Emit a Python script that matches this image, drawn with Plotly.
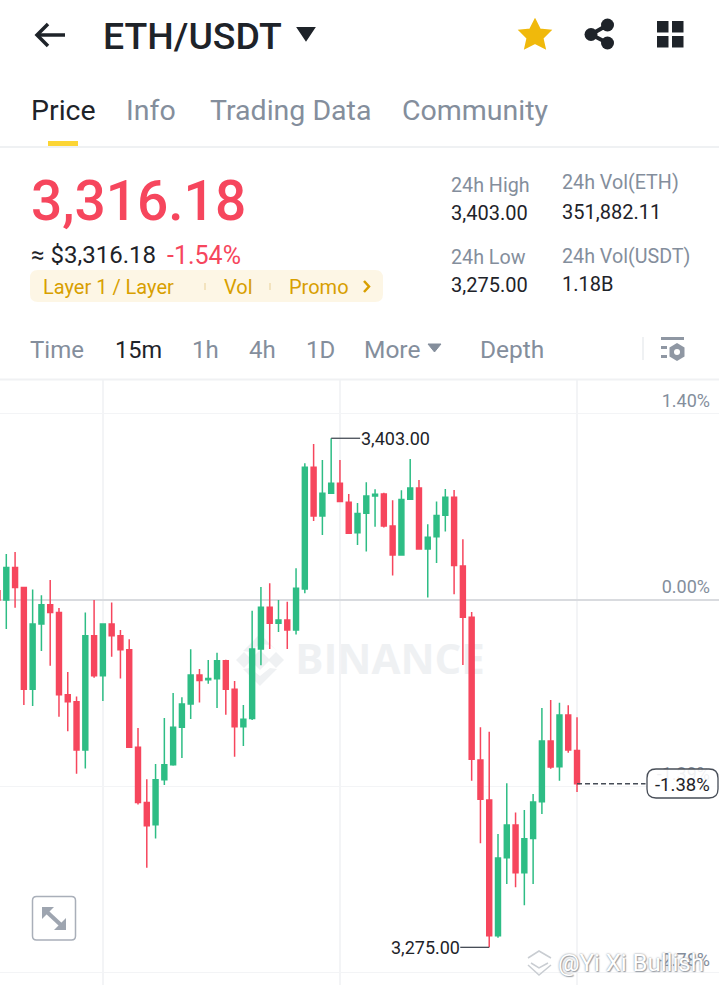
import plotly.graph_objects as go

W = 719
H = 985
FONT = "Roboto"
DARK = "#1E2329"
GRAY = "#848E9C"
RED = "#F6465D"
GREEN = "#2EBD85"
GOLD = "#D89F00"

# 15m candles, % change against the chart's reference price
bar_index = list(range(-1, 66))
open_pct = [0.07, 0.0, 0.243, 0.093, -0.67, -0.18, -0.035, -0.093, -0.71, -0.763, -1.125, -0.268, -0.568, -0.18,
            -0.268, -0.373, -1.105, -1.518, -1.685, -1.348, -1.235, -0.955, -0.78, -0.563, -0.598, -0.59, -0.455,
            -0.67, -0.95, -0.888, -0.368, -0.055, -0.175, -0.15, -0.225, 0.083, 0.995, 0.63, 0.8, 0.875, 0.733,
            0.505, 0.65, 0.78, 0.795, 0.555, 0.338, 0.755, 0.84, 0.383, 0.475, 0.635, 0.77, 0.255, -0.13, -1.2,
            -1.5, -2.518, -1.933, -1.688, -2.045, -1.788, -1.513, -1.058, -1.25, -0.863, -1.128]
high_pct = [0.1, 0.345, 0.36, 0.095, 0.078, 0.035, 0.15, -0.06, -0.54, -0.723, -0.093, 0.0, -0.175, -0.018,
            -0.225, -0.295, -0.96, -1.345, -1.23, -0.885, -0.698, -0.73, -0.37, -0.518, -0.45, -0.395, -0.448,
            -0.608, -0.788, -0.08, 0.098, 0.125, 0.0, -0.013, 0.238, 1.025, 1.17, 1.05, 1.213, 1.05, 0.795,
            0.728, 0.883, 0.83, 0.805, 0.748, 0.823, 1.058, 0.9, 0.568, 0.738, 0.833, 0.825, 0.455, -0.09, -0.955,
            -0.988, -1.755, -1.375, -1.593, -1.575, -1.455, -0.81, -0.75, -0.77, -0.79, -0.88]
low_pct = [-0.02, -0.218, -0.058, -0.788, -0.795, -0.383, -0.493, -0.875, -0.985, -1.303, -1.263, -0.583, -0.758,
           -0.425, -0.588, -1.105, -1.533, -2.008, -1.788, -1.388, -1.243, -1.185, -0.893, -0.768, -0.628, -0.81,
           -0.86, -1.175, -1.095, -0.9, -0.49, -0.368, -0.24, -0.368, -0.258, 0.05, 0.593, 0.488, 0.795, 0.735,
           0.495, 0.413, 0.363, 0.55, 0.543, 0.183, 0.335, 0.75, 0.378, 0.018, 0.278, 0.513, 0.043, -0.488, -1.355,
           -1.825, -2.605, -2.533, -2.13, -2.155, -2.29, -2.13, -1.605, -1.265, -1.355, -1.145, -1.44]
close_pct = [0.0, 0.243, 0.093, -0.67, -0.18, -0.035, -0.093, -0.71, -0.763, -1.125, -0.268, -0.568, -0.18,
             -0.268, -0.373, -1.105, -1.518, -1.693, -1.348, -1.235, -0.955, -0.78, -0.563, -0.603, -0.588, -0.455,
             -0.67, -0.95, -0.895, -0.368, -0.055, -0.175, -0.15, -0.225, 0.088, 0.995, 0.63, 0.8, 0.875, 0.738,
             0.5, 0.648, 0.78, 0.793, 0.555, 0.338, 0.753, 0.84, 0.383, 0.47, 0.633, 0.77, 0.258, -0.13, -1.195,
             -1.495, -2.518, -1.935, -1.688, -2.045, -1.79, -1.515, -1.058, -1.253, -0.863, -1.125, -1.378]

# the app's lower gridlines sit slightly below their rounded labels
axis_ticks = [1.40, 0.0, -1.397, -2.795]
axis_labels = ["1.40%", "0.00%", "-1.39%", "-2.78%"]
time_ticks = [11, 38, 65]
last_pct = -1.378


def px(x):
    return x / W


def py(y):
    return 1 - y / H


def path(cmds):
    # cmds: list of (letter, x, y, ...) in screen pixels
    out = ""
    for c in cmds:
        out += c[0]
        vals = c[1:]
        for n in range(0, len(vals), 2):
            out += f" {px(vals[n]):.5f},{py(vals[n + 1]):.5f} "
    return out


def rrect(x0, y0, x1, y1, r):
    return path([("M", x0 + r, y0), ("L", x1 - r, y0), ("Q", x1, y0, x1, y0 + r), ("L", x1, y1 - r),
                 ("Q", x1, y1, x1 - r, y1), ("L", x0 + r, y1), ("Q", x0, y1, x0, y1 - r), ("L", x0, y0 + r),
                 ("Q", x0, y0, x0 + r, y0)]) + "Z"


def poly(points):
    return path([("M",) + points[0]] + [("L",) + p for p in points[1:]]) + "Z"


def line_path(points):
    return path([("M",) + points[0]] + [("L",) + p for p in points[1:]])


shapes = []
annotations = []


def add_path(d, fill=None, line=None, width=0, layer="above"):
    shapes.append(dict(type="path", xref="paper", yref="paper", path=d, fillcolor=fill or "rgba(0,0,0,0)",
                       line=dict(color=line or "rgba(0,0,0,0)", width=width), layer=layer))


def add_circle(cx, cy, r, fill):
    shapes.append(dict(type="circle", xref="paper", yref="paper", x0=px(cx - r), x1=px(cx + r), y0=py(cy + r),
                       y1=py(cy - r), fillcolor=fill, line=dict(width=0)))


def add_text(x, y, s, size, color, weight=400, anchor="left", **font_extra):
    # annotations sit about 1.5px right of the requested edge
    if anchor == "left":
        x = x - 1.5
    annotations.append(dict(xref="paper", yref="paper", x=px(x), y=py(y), text=s, showarrow=False, xanchor=anchor,
                            yanchor="middle", borderpad=0,
                            font=dict(family=FONT, size=size, color=color, weight=weight, **font_extra)))


# header
add_path(line_path([(48, 24), (37, 35), (48, 46)]), line=DARK, width=3.5)
add_path(line_path([(37, 35), (65, 35)]), line=DARK, width=3.5)
add_text(103, 36, "ETH/USDT", 37.4, DARK, 500)
add_path(poly([(298, 28), (314, 28), (306, 40)]), fill=DARK, line=DARK, width=2)
add_path(poly([(535, 21), (539.5, 30), (549, 31), (542, 38), (544, 47), (535, 42.5), (526, 47), (528, 38), (521, 31),
               (530.5, 30)]), fill="#F0B90B", line="#F0B90B", width=3)
add_path(line_path([(607.5, 25), (591, 34.5), (607.5, 43)]), line=DARK, width=4)
add_circle(607.5, 25, 6.5, DARK)
add_circle(591, 34.5, 6.5, DARK)
add_circle(607.5, 43, 6.5, DARK)
for gx, gy in [(657, 21), (672, 21), (657, 36), (672, 36)]:
    add_path(poly([(gx, gy), (gx + 11.5, gy), (gx + 11.5, gy + 11.5), (gx, gy + 11.5)]), fill=DARK)

# tabs
add_text(31, 110, "Price", 28.5, DARK)
add_text(126, 110, "Info", 28.5, GRAY)
add_text(210, 110, "Trading Data", 28.5, GRAY)
add_text(403, 110, "Community", 28.5, GRAY)
add_path(poly([(48, 141), (78, 141), (78, 146), (48, 146)]), fill="#FCD535")
add_path(line_path([(0, 147), (W, 147)]), line="#EAECEF", width=1.5)

# price block
add_text(31, 201, "3,316.18", 55, RED, 500)
add_text(31, 255, "≈ $3,316.18", 24, DARK)
add_text(167, 255, "-1.54%", 25, RED)
add_path(rrect(30, 270, 383, 302, 8), fill="#FDF6E5")
add_text(43, 287, "Layer 1 / Layer", 20, GOLD)
add_text(224, 287, "Vol", 20, GOLD)
add_text(289, 287, "Promo", 20, GOLD)
add_path(line_path([(205, 283), (205, 290)]), line="#EFDDB0", width=1.5)
add_path(line_path([(270, 283), (270, 290)]), line="#EFDDB0", width=1.5)
add_path(line_path([(364, 281), (369, 286.5), (364, 292)]), line=GOLD, width=2.5)

add_text(451, 185, "24h High", 19.7, GRAY)
add_text(451, 213, "3,403.00", 20, DARK)
add_text(562, 183, "24h Vol(ETH)", 19.7, GRAY)
add_text(562, 212, "351,882.11", 20, DARK)
add_text(451, 257, "24h Low", 19.7, GRAY)
add_text(451, 285, "3,275.00", 20, DARK)
add_text(562, 256, "24h Vol(USDT)", 19.7, GRAY)
add_text(562, 284, "1.18B", 20, DARK)

# interval row
add_text(30, 350, "Time", 24, GRAY)
add_text(115, 350, "15m", 23.5, DARK)
add_text(192, 350, "1h", 24, GRAY)
add_text(249, 350, "4h", 24, GRAY)
add_text(306, 350, "1D", 24, GRAY)
add_text(364, 350, "More", 24.5, GRAY)
add_text(480, 350, "Depth", 24.5, GRAY)
add_path(poly([(428, 344), (441, 344), (434.5, 352)]), fill=GRAY, line=GRAY, width=1)
add_path(line_path([(643, 337), (643, 360)]), line="#EAECEF", width=1.5)
add_path(poly([(661, 337), (684, 337), (684, 340), (661, 340)]), fill="#8F97A3")
add_path(poly([(661, 346), (667, 346), (667, 349), (661, 349)]), fill="#8F97A3")
add_path(poly([(661, 355), (667, 355), (667, 358), (661, 358)]), fill="#8F97A3")
add_path(poly([(677, 343), (684.5, 347.5), (684.5, 356.5), (677, 361), (669.5, 356.5), (669.5, 347.5)]), fill="#8F97A3")
add_circle(677, 352, 3, "white")
add_path(line_path([(0, 379.5), (W, 379.5)]), line="#F0F1F3", width=2)

# watermark behind the candles
add_path(poly([(260, 650), (270, 660), (260, 670), (250, 660)]), fill="#EFF1F3", layer="below")
add_path(poly([(244, 652), (252, 660), (244, 668), (236, 660)]), fill="#EFF1F3", layer="below")
add_path(poly([(276, 652), (284, 660), (276, 668), (268, 660)]), fill="#EFF1F3", layer="below")
add_path(poly([(260, 634), (277, 651), (270, 645), (260, 644), (250, 652), (243, 651)]), fill="#EFF1F3", layer="below")
add_path(poly([(260, 686), (243, 669), (250, 668), (260, 676), (270, 668), (277, 669)]), fill="#EFF1F3", layer="below")
shapes.append(dict(type="rect", xref="paper", yref="paper", x0=px(292), x1=px(488), y0=py(680), y1=py(640),
                   layer="below", line=dict(width=0), fillcolor="rgba(0,0,0,0)",
                   label=dict(text="BINANCE", textposition="middle center",
                              font=dict(family="Open Sans", size=42, color="#EFF1F3", weight=700))))

# high / low markers
shapes.append(dict(type="line", xref="x", yref="y", x0=37, x1=40.3, y0=max(high_pct), y1=max(high_pct),
                   line=dict(color="#474D57", width=1.3)))
shapes.append(dict(type="line", xref="x", yref="y", x0=55, x1=51.7, y0=min(low_pct), y1=min(low_pct),
                   line=dict(color="#474D57", width=1.3)))
annotations.append(dict(xref="x", yref="y", x=40.15, y=max(high_pct), text="3,403.00", showarrow=False, xanchor="left",
                        yanchor="middle", font=dict(family=FONT, size=18, color=DARK)))
annotations.append(dict(xref="x", yref="y", x=51.85, y=min(low_pct), text="3,275.00", showarrow=False, xanchor="right",
                        yanchor="middle", font=dict(family=FONT, size=18, color=DARK)))

# last price tag
shapes.append(dict(type="line", xref="x", yref="y", x0=65, x1=72.8, y0=last_pct, y1=last_pct,
                   line=dict(color="#474D57", width=1.3, dash="5px,3px")))
add_path(rrect(647, 769, 718, 798, 9), fill="rgba(255,255,255,0.88)", line="#474D57", width=1.3)
add_text(682.5, 785, "-1.38%", 18.5, DARK, anchor="center")

# expand button
add_path(rrect(32.5, 896.5, 75.5, 940, 4), fill="white", line="#A9AFB9", width=1.5)
add_path(poly([(42, 907), (54, 907), (42, 919)]), fill="#9EA5B0")
add_path(poly([(66, 930), (54, 930), (66, 918)]), fill="#9EA5B0")
add_path(line_path([(47, 912), (61, 925)]), line="#9EA5B0", width=4)

# screenshot credit
add_path(line_path([(528, 958), (539, 951), (551, 958)]), line="#C9CDD2", width=1.5)
add_path(line_path([(531, 963), (539, 968), (548, 963)]), line="#C9CDD2", width=1.5)
add_path(line_path([(528, 965), (539, 975), (551, 965)]), line="#C9CDD2", width=1.5)
add_text(558, 963, "@Yi Xi Bullish", 24, "white", shadow="1px 1px 1px #9a9fa6, 0 0 2px #7a7f86")

fig = go.Figure(go.Candlestick(
    x=bar_index, open=open_pct, high=high_pct, low=low_pct, close=close_pct,
    whiskerwidth=0,
    increasing=dict(line=dict(color=GREEN, width=1.5), fillcolor=GREEN),
    decreasing=dict(line=dict(color=RED, width=1.5), fillcolor=RED),
    showlegend=False,
))

fig.update_layout(
    width=W, height=H,
    margin=dict(l=0, r=0, t=0, b=0),
    paper_bgcolor="white", plot_bgcolor="white",
    boxgap=0.2,
    shapes=shapes, annotations=annotations,
    xaxis=dict(range=[-0.7175, 81.17], domain=[0, 1], anchor="y", rangeslider=dict(visible=False),
               tickmode="array", tickvals=time_ticks, showticklabels=False, ticks="",
               showgrid=True, gridcolor="#F3F4F6", gridwidth=1.5, zeroline=False),
    yaxis=dict(range=[-2.8875, 1.65], domain=[0, 605 / H], side="right", anchor="x",
               tickmode="array", tickvals=axis_ticks, ticktext=axis_labels, ticks="",
               ticklabelposition="inside", ticklabelshift=-13, ticklabelstandoff=6,
               tickfont=dict(family=FONT, size=18, color=GRAY),
               showgrid=True, gridcolor="#F3F4F6", gridwidth=1.2,
               zeroline=True, zerolinecolor="#D9DBDF", zerolinewidth=2),
)

fig.write_html("out.html", config={"displayModeBar": False}, post_script="document.body.style.margin='0';")
